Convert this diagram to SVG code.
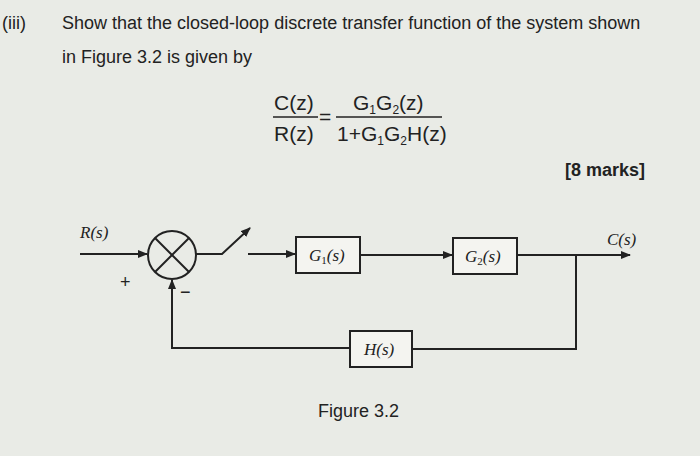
<svg xmlns="http://www.w3.org/2000/svg" width="700" height="456" viewBox="0 0 700 456">
<style>
.t{font-family:"Liberation Sans",Arial,sans-serif;font-size:18px;fill:#222}
.m{font-family:"Liberation Serif","Times New Roman",serif;font-style:italic;font-size:17px;fill:#222}
.s{font-size:11px;font-style:normal}
.l{stroke:#222;stroke-width:2;fill:none}
.b{stroke:#222;stroke-width:2;fill:#f4f4f0}
</style>
<defs><marker id="a" markerWidth="10" markerHeight="8" refX="9" refY="4" orient="auto" markerUnits="userSpaceOnUse"><path d="M0,0L10,4L0,8Z" fill="#222"/></marker></defs>
<rect width="700" height="456" fill="#e9ebe6"/>
<text class="t" x="2" y="29">(iii)</text>
<text class="t" x="62" y="29">Show that the closed-loop discrete transfer function of the system shown</text>
<text class="t" x="62" y="63">in Figure 3.2 is given by</text>
<g id="eq" class="t" style="font-size:21px">
<text x="274" y="110">C(z)</text>
<text x="274" y="141">R(z)</text>
<line x1="273" y1="117" x2="318" y2="117" stroke="#222" stroke-width="1.5"/>
<text x="319" y="124">=</text>
<text x="353" y="110">G<tspan font-size="12" dy="4">1</tspan><tspan dy="-4">G</tspan><tspan font-size="12" dy="4">2</tspan><tspan dy="-4">(z)</tspan></text>
<line x1="336" y1="117" x2="442" y2="117" stroke="#222" stroke-width="1.5"/>
<text x="337" y="141">1+G<tspan font-size="12" dy="4">1</tspan><tspan dy="-4">G</tspan><tspan font-size="12" dy="4">2</tspan><tspan dy="-4">H(z)</tspan></text>
</g>
<text class="t" x="565" y="176" font-weight="bold">[8 marks]</text>
<g id="connectors">
<line class="l" x1="80" y1="254" x2="147" y2="254" marker-end="url(#a)"/>
<polyline class="l" points="196,254 222,254 250,228" marker-end="url(#a)"/>
<line class="l" x1="248" y1="254" x2="295" y2="254" marker-end="url(#a)"/>
<line class="l" x1="360" y1="255" x2="452" y2="255" marker-end="url(#a)"/>
<line class="l" x1="517" y1="255" x2="630" y2="255" marker-end="url(#a)"/>
<polyline class="l" points="576,255 576,349 412,349"/>
<polyline class="l" points="350,348 172,348 172,280" marker-end="url(#a)"/>
</g>
<g id="sum"><circle class="l" cx="172" cy="255" r="24"/><line class="l" x1="155" y1="238" x2="189" y2="272"/><line class="l" x1="189" y1="238" x2="155" y2="272"/></g>
<g id="G1"><rect class="b" x="296" y="237" width="64" height="36"/><text class="m" x="309" y="261">G<tspan class="s" dy="3">1</tspan><tspan dy="-3">(s)</tspan></text></g>
<g id="G2"><rect class="b" x="453" y="238" width="64" height="36"/><text class="m" x="465" y="262">G<tspan class="s" dy="3">2</tspan><tspan dy="-3">(s)</tspan></text></g>
<g id="H"><rect class="b" x="350" y="331" width="62" height="36"/><text class="m" x="364" y="355">H(s)</text></g>
<text class="m" x="80" y="238">R(s)</text>
<text class="m" x="607" y="245">C(s)</text>
<text class="t" x="120" y="288">+</text>
<text class="t" x="180" y="298">−</text>
<text class="t" x="318" y="417" font-size="16">Figure 3.2</text>
</svg>
